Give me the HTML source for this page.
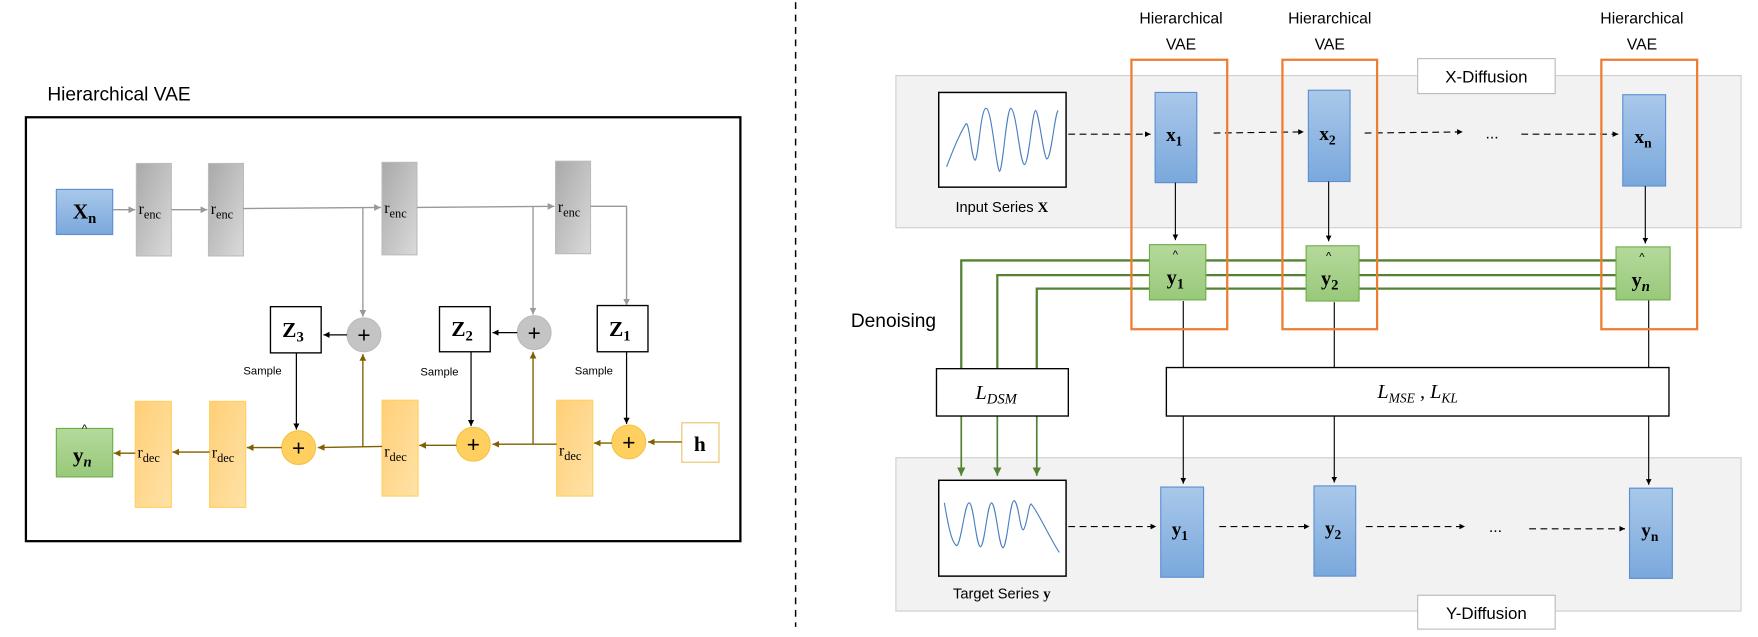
<!DOCTYPE html>
<html><head><meta charset="utf-8"><style>
html,body{margin:0;padding:0;background:#fff;}
svg{display:block;}
.s{font-family:"Liberation Sans",sans-serif;}
.m{font-family:"Liberation Serif",serif;}
</style></head><body>
<svg width="1758" height="637" viewBox="0 0 1560 565" preserveAspectRatio="none" xmlns="http://www.w3.org/2000/svg">
<defs>
<linearGradient id="gr" x1="0" x2="1" y1="0" y2="1"><stop offset="0" stop-color="#a9a9a9"/><stop offset="1" stop-color="#dadada"/></linearGradient>
<linearGradient id="ye" x1="0" x2="1" y1="0" y2="1"><stop offset="0" stop-color="#ffcf78"/><stop offset="1" stop-color="#ffe2a6"/></linearGradient>
<linearGradient id="bl" x1="0" x2="0" y1="0" y2="1"><stop offset="0" stop-color="#a9c8ea"/><stop offset="1" stop-color="#7aa8dc"/></linearGradient>
<linearGradient id="gn" x1="0" x2="0" y1="0" y2="1"><stop offset="0" stop-color="#b5d99c"/><stop offset="1" stop-color="#98c97a"/></linearGradient>
<marker id="ag" markerWidth="6" markerHeight="6" refX="5" refY="3" orient="auto"><path d="M0,0.5 L5,3 L0,5.5z" fill="#999"/></marker>
<marker id="ak" markerWidth="6" markerHeight="6" refX="5" refY="3" orient="auto"><path d="M0,0.5 L5,3 L0,5.5z" fill="#000"/></marker>
<marker id="ao" markerWidth="6" markerHeight="6" refX="5" refY="3" orient="auto"><path d="M0,0.5 L5,3 L0,5.5z" fill="#7f6000"/></marker>
<marker id="agn" markerWidth="6" markerHeight="6" refX="5" refY="3" orient="auto"><path d="M0,0.5 L5,3 L0,5.5z" fill="#548235"/></marker>
</defs>

<text x="42" y="89" class="s" font-size="17">Hierarchical VAE</text>
<rect x="23" y="104" width="634" height="376" fill="none" stroke="#000" stroke-width="2"/>
<line x1="706" y1="2" x2="706" y2="556" stroke="#000" stroke-width="1.3" stroke-dasharray="6,5"/>

<rect x="50" y="168" width="50" height="40" fill="url(#bl)" stroke="#5b8fd0"/>
<text x="75" y="194" class="m" font-size="19" font-weight="bold" text-anchor="middle">X<tspan font-size="13" dy="4">n</tspan></text>
<g fill="url(#gr)" stroke="#bbb">
<rect x="121" y="145" width="31" height="82"/><rect x="185" y="145" width="31" height="82"/>
<rect x="339" y="144" width="31" height="82"/><rect x="493" y="143" width="31" height="82"/>
</g>
<g class="m" font-size="14"><text x="123" y="190">r<tspan font-size="11" dy="4">enc</tspan></text><text x="187" y="190">r<tspan font-size="11" dy="4">enc</tspan></text><text x="341" y="189">r<tspan font-size="11" dy="4">enc</tspan></text><text x="495" y="188">r<tspan font-size="11" dy="4">enc</tspan></text></g>
<g stroke="#999" stroke-width="1.2" fill="none">
<line x1="100" y1="186" x2="120" y2="186" marker-end="url(#ag)"/>
<line x1="152" y1="186" x2="184" y2="186" marker-end="url(#ag)"/>
<line x1="216" y1="185" x2="338" y2="184" marker-end="url(#ag)"/>
<line x1="370" y1="184" x2="492" y2="183" marker-end="url(#ag)"/>
<polyline points="524,183 556,183 556,271" marker-end="url(#ag)"/>
<line x1="322" y1="184" x2="322" y2="281" marker-end="url(#ag)"/>
<line x1="473" y1="183" x2="473" y2="279" marker-end="url(#ag)"/>
</g>
<circle cx="323" cy="297" r="15" fill="#c4c4c4" stroke="#bbb"/><text x="323" y="304" class="s" font-size="20" text-anchor="middle">+</text>
<circle cx="474" cy="295" r="15" fill="#c4c4c4" stroke="#bbb"/><text x="474" y="302" class="s" font-size="20" text-anchor="middle">+</text>
<g fill="#fff" stroke="#000" stroke-width="1.2">
<rect x="240" y="272" width="45" height="41"/><rect x="390" y="272" width="45" height="40"/><rect x="530" y="271" width="45" height="41"/>
</g>
<g class="m" font-size="19" font-weight="bold" text-anchor="middle">
<text x="260" y="299">Z<tspan font-size="13" dy="4">3</tspan></text><text x="410" y="298">Z<tspan font-size="13" dy="4">2</tspan></text><text x="550" y="298">Z<tspan font-size="13" dy="4">1</tspan></text></g>
<g stroke="#000" stroke-width="1.1">
<line x1="308" y1="297" x2="287" y2="297" marker-end="url(#ak)"/>
<line x1="459" y1="295" x2="437" y2="295" marker-end="url(#ak)"/>
<line x1="263" y1="313" x2="263" y2="381" marker-end="url(#ak)"/>
<line x1="418" y1="312" x2="418" y2="378" marker-end="url(#ak)"/>
<line x1="556" y1="312" x2="556" y2="376" marker-end="url(#ak)"/>
</g>
<g class="s" font-size="10"><text x="216" y="332">Sample</text><text x="373" y="333">Sample</text><text x="510" y="332">Sample</text></g>

<g fill="url(#ye)" stroke="#ffd060">
<rect x="120" y="356" width="32" height="94"/><rect x="186" y="356" width="32" height="94"/>
<rect x="339" y="355" width="32" height="85"/><rect x="494" y="355" width="32" height="85"/>
</g>
<g class="m" font-size="14"><text x="122" y="406">r<tspan font-size="11" dy="4">dec</tspan></text><text x="188" y="406">r<tspan font-size="11" dy="4">dec</tspan></text><text x="341" y="405">r<tspan font-size="11" dy="4">dec</tspan></text><text x="496" y="404">r<tspan font-size="11" dy="4">dec</tspan></text></g>
<g fill="#ffd060" stroke="#f5c242">
<circle cx="265" cy="397" r="15"/><circle cx="420" cy="394" r="15"/><circle cx="558" cy="392" r="15"/></g>
<g class="s" font-size="20" text-anchor="middle"><text x="265" y="404">+</text><text x="420" y="401">+</text><text x="558" y="399">+</text></g>
<rect x="605" y="375" width="33" height="35" fill="#fff" stroke="#e8c56a"/>
<text x="621" y="400" class="m" font-size="19" font-weight="bold" text-anchor="middle">h</text>
<rect x="50" y="380" width="50" height="43" fill="url(#gn)" stroke="#70ad47"/>
<text x="75" y="383" class="s" font-size="10" text-anchor="middle">^</text>
<text x="73" y="410" class="m" font-size="19" font-weight="bold" text-anchor="middle">y<tspan font-size="13" dy="4" font-style="italic">n</tspan></text>
<g stroke="#7f6000" stroke-width="1.2" fill="none">
<line x1="605" y1="392" x2="575" y2="392" marker-end="url(#ao)"/>
<line x1="543" y1="393" x2="527" y2="393" marker-end="url(#ao)"/>
<line x1="494" y1="394" x2="437" y2="394" marker-end="url(#ao)"/>
<line x1="473" y1="394" x2="473" y2="312" marker-end="url(#ao)"/>
<line x1="405" y1="395" x2="372" y2="395" marker-end="url(#ao)"/>
<line x1="339" y1="396" x2="282" y2="397" marker-end="url(#ao)"/>
<line x1="322" y1="396" x2="322" y2="314" marker-end="url(#ao)"/>
<line x1="250" y1="397" x2="219" y2="397" marker-end="url(#ao)"/>
<line x1="186" y1="401" x2="153" y2="401" marker-end="url(#ao)"/>
<line x1="120" y1="402" x2="101" y2="402" marker-end="url(#ao)"/>
</g>

<rect x="795" y="67" width="750" height="135" fill="#f2f2f2" stroke="#cfcfcf"/>
<rect x="795" y="406" width="750" height="136" fill="#f2f2f2" stroke="#cfcfcf"/>
<g class="s" font-size="14" text-anchor="middle">
<text x="1048" y="21">Hierarchical</text><text x="1048" y="44">VAE</text>
<text x="1180" y="21">Hierarchical</text><text x="1180" y="44">VAE</text>
<text x="1457" y="21">Hierarchical</text><text x="1457" y="44">VAE</text>
</g>
<rect x="1258" y="52" width="122" height="31" fill="#fff" stroke="#bbb"/>
<text x="1319" y="73" class="s" font-size="15" text-anchor="middle">X-Diffusion</text>
<rect x="1258" y="528" width="122" height="30" fill="#fff" stroke="#bbb"/>
<text x="1319" y="549" class="s" font-size="15" text-anchor="middle">Y-Diffusion</text>

<rect x="833" y="82" width="113" height="84" fill="#fff" stroke="#000" stroke-width="1.3"/>
<path d="M840,148 C846,132 852,118 857,110 C860,106 862,140 865,142 C868,144 870,96 875,96 C880,96 884,150 887,152 C890,150 893,97 897,96 C902,98 905,145 909,146 C913,146 916,98 919,98 C922,100 926,140 929,141 C933,140 936,100 939,98" fill="none" stroke="#4a7fc1" stroke-width="1"/>
<text x="889" y="188" class="s" font-size="13" text-anchor="middle">Input Series <tspan class="m" font-weight="bold">X</tspan></text>
<rect x="833" y="426" width="113" height="85" fill="#fff" stroke="#000" stroke-width="1.3"/>
<path d="M838,446 C842,470 845,482 849,484 C853,482 856,446 860,446 C864,446 866,484 870,485 C874,484 876,446 880,446 C884,448 886,484 890,486 C894,484 896,444 900,444 C904,446 905,470 908,470 C911,468 913,446 915,447 C920,452 932,478 940,490" fill="none" stroke="#4a7fc1" stroke-width="1"/>
<text x="889" y="531" class="s" font-size="13" text-anchor="middle">Target Series <tspan class="m" font-weight="bold">y</tspan></text>

<g fill="url(#bl)" stroke="#5b8fd0">
<rect x="1025" y="82" width="37" height="80"/><rect x="1161" y="80" width="37" height="81"/><rect x="1440" y="84" width="38" height="81"/>
<rect x="1030" y="432" width="38" height="80"/><rect x="1166" y="431" width="37" height="80"/><rect x="1446" y="433" width="38" height="80"/>
</g>
<g class="m" font-size="17" font-weight="bold" text-anchor="middle">
<text x="1042" y="125">x<tspan font-size="12" dy="4">1</tspan></text><text x="1178" y="124">x<tspan font-size="12" dy="4">2</tspan></text><text x="1458" y="127">x<tspan font-size="12" dy="4">n</tspan></text>
<text x="1047" y="475">y<tspan font-size="12" dy="4">1</tspan></text><text x="1183" y="474">y<tspan font-size="12" dy="4">2</tspan></text><text x="1464" y="476">y<tspan font-size="12" dy="4">n</tspan></text>
</g>
<g stroke="#000" stroke-width="1" stroke-dasharray="6,4">
<line x1="948" y1="119" x2="1021" y2="119" marker-end="url(#ak)"/>
<line x1="1077" y1="118" x2="1157" y2="117" marker-end="url(#ak)"/>
<line x1="1211" y1="118" x2="1298" y2="117" marker-end="url(#ak)"/>
<line x1="1350" y1="119" x2="1436" y2="119" marker-end="url(#ak)"/>
<line x1="948" y1="467" x2="1026" y2="467" marker-end="url(#ak)"/>
<line x1="1082" y1="467" x2="1162" y2="467" marker-end="url(#ak)"/>
<line x1="1212" y1="467" x2="1300" y2="467" marker-end="url(#ak)"/>
<line x1="1357" y1="469" x2="1442" y2="469" marker-end="url(#ak)"/>
</g>
<text x="1324" y="123" class="s" font-size="14" text-anchor="middle">...</text>
<text x="1327" y="472" class="s" font-size="14" text-anchor="middle">...</text>

<g stroke="#548235" stroke-width="2" fill="none">
<polyline points="1434,231 853,231 853,327"/>
<polyline points="1434,244 885,244 885,327"/>
<polyline points="1434,256 920,256 920,327"/>
</g>
<g stroke="#548235" stroke-width="1.5">
<line x1="853" y1="369" x2="853" y2="422" marker-end="url(#agn)"/>
<line x1="885" y1="369" x2="885" y2="422" marker-end="url(#agn)"/>
<line x1="920" y1="369" x2="920" y2="422" marker-end="url(#agn)"/>
</g>
<g stroke="#000" stroke-width="1">
<line x1="1043" y1="162" x2="1043" y2="213" marker-end="url(#ak)"/>
<line x1="1179" y1="161" x2="1179" y2="214" marker-end="url(#ak)"/>
<line x1="1460" y1="165" x2="1460" y2="216" marker-end="url(#ak)"/>
<line x1="1050" y1="267" x2="1050" y2="326"/>
<line x1="1184" y1="268" x2="1184" y2="326"/>
<line x1="1463" y1="264" x2="1463" y2="326"/>
<line x1="1050" y1="369" x2="1050" y2="429" marker-end="url(#ak)"/>
<line x1="1184" y1="369" x2="1184" y2="428" marker-end="url(#ak)"/>
<line x1="1463" y1="369" x2="1463" y2="430" marker-end="url(#ak)"/>
</g>
<g fill="url(#gn)" stroke="#70ad47">
<rect x="1020" y="217" width="50" height="49"/><rect x="1159" y="218" width="47" height="49"/><rect x="1434" y="219" width="48" height="47"/>
</g>
<g class="s" font-size="10" text-anchor="middle"><text x="1043" y="229">^</text><text x="1179" y="230">^</text><text x="1457" y="231">^</text></g>
<g class="m" font-size="18" font-weight="bold" text-anchor="middle">
<text x="1043" y="252">y<tspan font-size="13" dy="4">1</tspan></text><text x="1180" y="253">y<tspan font-size="13" dy="4">2</tspan></text><text x="1456" y="254">y<tspan font-size="13" dy="4" font-style="italic">n</tspan></text></g>
<g fill="none" stroke="#ed7d31" stroke-width="2">
<rect x="1004" y="53" width="85" height="239"/><rect x="1138" y="53" width="84" height="239"/><rect x="1421" y="53" width="85" height="239"/>
</g>
<text x="755" y="290" class="s" font-size="17">Denoising</text>
<rect x="831" y="327" width="117" height="42" fill="#fff" stroke="#000" stroke-width="1.2"/>
<text x="884" y="354" class="m" font-size="18" font-style="italic" text-anchor="middle">L<tspan font-size="13" dy="4">DSM</tspan></text>
<rect x="1035" y="326" width="446" height="43" fill="#fff" stroke="#000" stroke-width="1.2"/>
<text x="1258" y="353" class="m" font-size="18" font-style="italic" text-anchor="middle">L<tspan font-size="12" dy="4">MSE</tspan><tspan dy="-4"> , L</tspan><tspan font-size="12" dy="4">KL</tspan></text>
</svg>
</body></html>
